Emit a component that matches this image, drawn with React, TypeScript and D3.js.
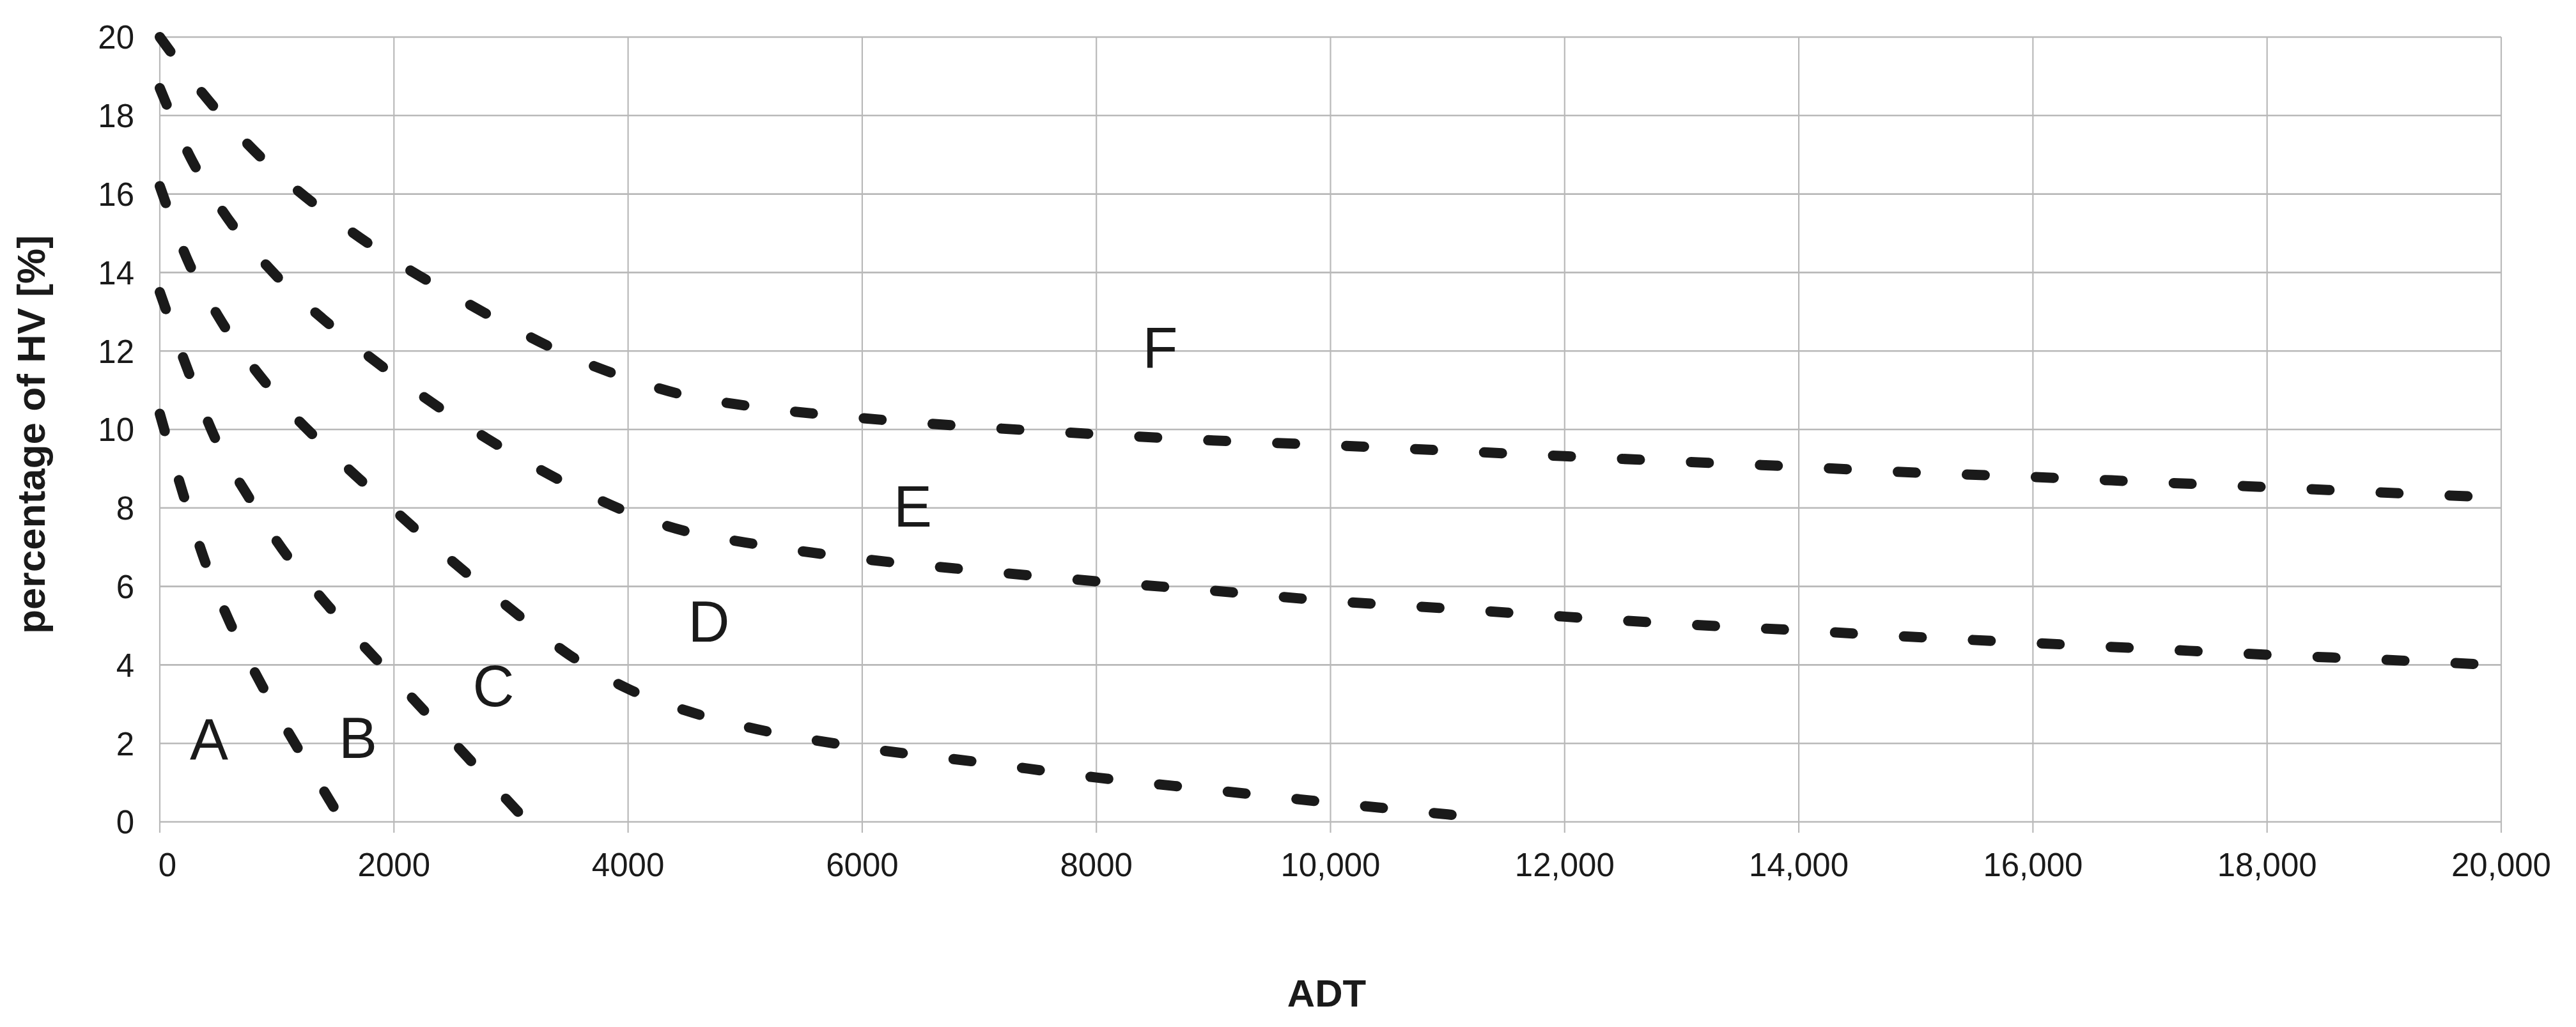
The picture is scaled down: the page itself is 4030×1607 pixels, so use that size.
import * as d3 from "d3";

// ADT on x, percentage of HV on y; five boundary curves
const adtAB = [0, 200, 400, 600, 800, 1000, 1200, 1400, 1560];
const hvAB = [10.4, 8.35, 6.52, 5.07, 3.88, 2.79, 1.77, 0.8, 0];

const adtBC = [0, 250, 500, 750, 1000, 1500, 2000, 2500, 3000, 3140];
const hvBC = [13.5, 11.43, 9.6, 8.32, 7.15, 5.29, 3.66, 2.06, 0.45, 0];

const adtCD = [0, 250, 500, 1000, 1500, 2000, 2500, 3000, 3500, 4000, 4500, 5000, 6000, 7000, 8000, 9000, 10000, 11000, 11300];
const hvCD = [16.2, 14.23, 12.88, 10.84, 9.31, 7.95, 6.64, 5.42, 4.25, 3.39, 2.83, 2.43, 1.89, 1.52, 1.13, 0.81, 0.49, 0.19, 0.1];

const adtDE = [0, 250, 500, 1000, 1500, 2000, 2500, 3000, 3500, 4000, 4500, 5000, 6000, 7000, 8000, 9000, 10000, 11000, 12000, 13000, 14000, 15000, 16000, 17000, 18000, 19000, 20000];
const hvDE = [18.7, 17.0, 15.73, 13.9, 12.55, 11.38, 10.33, 9.4, 8.58, 7.89, 7.4, 7.12, 6.7, 6.4, 6.13, 5.89, 5.63, 5.44, 5.23, 5.04, 4.88, 4.71, 4.56, 4.41, 4.26, 4.13, 3.99];

const adtEF = [0, 250, 500, 1000, 1500, 2000, 2500, 3000, 3500, 4000, 4500, 5000, 6000, 7000, 8000, 9000, 10000, 11000, 12000, 13000, 14000, 15000, 16000, 17000, 18000, 19000, 20000];
const hvEF = [20, 19.0, 18.09, 16.55, 15.34, 14.31, 13.43, 12.61, 11.87, 11.3, 10.86, 10.61, 10.29, 10.06, 9.88, 9.72, 9.6, 9.46, 9.32, 9.18, 9.05, 8.9, 8.79, 8.66, 8.53, 8.39, 8.26];

const zoneNames = ["A", "B", "C", "D", "E", "F"];
const zoneAdt = [420, 1693, 2850, 4690, 6432, 8545];
const zoneHv = [1.59, 1.63, 2.95, 4.59, 7.52, 11.58];

const xTicks = [0, 2000, 4000, 6000, 8000, 10000, 12000, 14000, 16000, 18000, 20000];
const xTickLabels = ["0", "2000", "4000", "6000", "8000", "10,000", "12,000", "14,000", "16,000", "18,000", "20,000"];
const yTicks = [0, 2, 4, 6, 8, 10, 12, 14, 16, 18, 20];

const W = 4030;
const H = 1607;
const margin = { top: 58, right: 117, bottom: 321, left: 250 };
const font = "'Liberation Sans', Arial, sans-serif";
const ink = "#1a1a1a";
const grid = "#b9b9b9";

export default function App() {
  const x = d3.scaleLinear().domain([0, 20000]).range([margin.left, W - margin.right]);
  const y = d3.scaleLinear().domain([0, 20]).range([H - margin.bottom, margin.top]);

  const line = d3
    .line<[number, number]>()
    .x((d) => x(d[0]))
    .y((d) => y(d[1]))
    .curve(d3.curveMonotoneX);

  const series: [number[], number[]][] = [
    [adtAB, hvAB],
    [adtBC, hvBC],
    [adtCD, hvCD],
    [adtDE, hvDE],
    [adtEF, hvEF],
  ];

  const x0 = x(0);
  const x1 = x(20000);
  const yBottom = y(0);
  const yTop = y(20);

  return (
    <svg
      width={W}
      height={H}
      style={{ position: "absolute", left: 0, top: 0, background: "#fff" }}
    >
      <rect width={W} height={H} fill="#fff" />

      {/* gridlines */}
      {yTicks.map((t) => (
        <line key={"h" + t} x1={x0} x2={x1} y1={y(t)} y2={y(t)} stroke={grid} strokeWidth={2.6} />
      ))}
      {xTicks.map((t) => (
        <line key={"v" + t} x1={x(t)} x2={x(t)} y1={yTop} y2={yBottom + 17} stroke={grid} strokeWidth={2.2} />
      ))}

      {/* tick labels */}
      {yTicks.map((t) => (
        <text
          key={"yl" + t}
          x={x0 - 40}
          y={y(t)}
          dy="0.36em"
          textAnchor="end"
          fontFamily={font}
          fontSize={51}
          fill={ink}
        >
          {t}
        </text>
      ))}
      {xTicks.map((t, i) => (
        <text
          key={"xl" + t}
          x={x(t) + (i === 0 ? 12 : 0)}
          y={yBottom + 85}
          textAnchor="middle"
          fontFamily={font}
          fontSize={51}
          fill={ink}
        >
          {xTickLabels[i]}
        </text>
      ))}

      {/* curves */}
      {series.map(([xs, ys], i) => (
        <path
          key={"s" + i}
          d={line(xs.map((v, j) => [v, ys[j]] as [number, number])) ?? ""}
          fill="none"
          stroke={ink}
          strokeWidth={16}
          strokeLinecap="round"
          strokeDasharray="28 80"
        />
      ))}

      {/* zone letters */}
      {zoneNames.map((n, i) => (
        <text
          key={"z" + n}
          x={x(zoneAdt[i])}
          y={y(zoneHv[i])}
          textAnchor="middle"
          fontFamily={font}
          fontSize={90}
          fill={ink}
        >
          {n}
        </text>
      ))}

      {/* axis titles */}
      <text
        x={(x0 + x1) / 2 - 6}
        y={1575}
        textAnchor="middle"
        fontFamily={font}
        fontWeight="bold"
        fontSize={60}
        fill={ink}
      >
        ADT
      </text>
      <text
        transform={`translate(70,${(yTop + yBottom) / 2 + 8}) rotate(-90)`}
        textAnchor="middle"
        fontFamily={font}
        fontWeight="bold"
        fontSize={62}
        fill={ink}
      >
        percentage of HV [%]
      </text>
    </svg>
  );
}
